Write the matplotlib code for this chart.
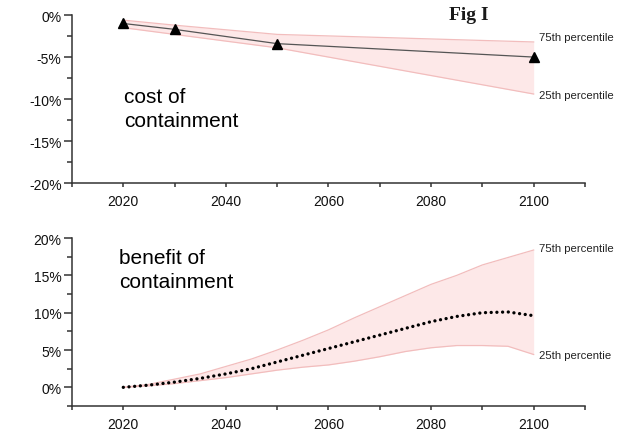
import matplotlib
matplotlib.use("Agg")
import matplotlib.pyplot as plt
from matplotlib.ticker import FuncFormatter, MultipleLocator

plt.rcParams['font.family'] = ['Liberation Sans', 'DejaVu Sans']

# ---- Data: cost of containment (%)
cost_years = [2020, 2030, 2050, 2100]
cost_mean = [-1.0, -1.7, -3.4, -5.0]
cost_p75 = [-0.6, -1.2, -2.3, -3.2]
cost_p25 = [-1.5, -2.3, -3.9, -9.4]

# ---- Data: benefit of containment (%)
ben_years = [2020, 2025, 2030, 2035, 2040, 2045, 2050, 2055, 2060, 2065,
             2070, 2075, 2080, 2085, 2090, 2095, 2100]
ben_mean = [0.0, 0.3, 0.7, 1.2, 1.8, 2.5, 3.4, 4.3, 5.2, 6.1,
            7.0, 7.9, 8.8, 9.5, 10.0, 10.1, 9.6]
ben_p75 = [0.0, 0.4, 1.1, 1.8, 2.8, 3.8, 5.0, 6.3, 7.7, 9.3,
           10.8, 12.3, 13.8, 15.0, 16.4, 17.4, 18.4]
ben_p25 = [0.0, 0.2, 0.5, 0.9, 1.3, 1.8, 2.3, 2.7, 3.0, 3.5,
           4.1, 4.8, 5.3, 5.6, 5.6, 5.5, 4.4]

xticks = [2010, 2020, 2030, 2040, 2050, 2060, 2070, 2080, 2090, 2100, 2110]
xticklabels = ['', '2020', '', '2040', '', '2060', '', '2080', '', '2100', '']

fill_c = '#fde8e8'
edge_c = '#f2bdbd'
spine_c = '#333333'

fig = plt.figure(figsize=(6.24, 4.35), dpi=100)
ax1 = fig.add_axes([0.1154, 0.577, 0.822, 0.386])
ax2 = fig.add_axes([0.1154, 0.0644, 0.822, 0.386])

pct = FuncFormatter(lambda v, p: f"{v:.0f}%")

for ax in (ax1, ax2):
    for s in ('top', 'right'):
        ax.spines[s].set_visible(False)
    for s in ('left', 'bottom'):
        ax.spines[s].set_color(spine_c)
        ax.spines[s].set_linewidth(1.1)
    ax.set_xlim(2010, 2110)
    ax.set_xticks(xticks)
    ax.set_xticklabels(xticklabels)
    ax.yaxis.set_major_locator(MultipleLocator(5))
    ax.yaxis.set_minor_locator(MultipleLocator(2.5))
    ax.yaxis.set_major_formatter(pct)
    ax.tick_params(direction='out', length=3.2, width=1.1, color=spine_c,
                   labelsize=10, labelcolor='#111111', pad=3)
    ax.tick_params(axis='y', which='major', length=5.5, pad=2)
    ax.tick_params(axis='y', which='minor', length=3.5, width=1.1, color=spine_c)
    ax.tick_params(axis='x', pad=5)

# Top panel
ax1.set_ylim(-20, 0)
ax1.fill_between(cost_years, cost_p25, cost_p75, color=fill_c, lw=0)
ax1.plot(cost_years, cost_p75, color=edge_c, lw=0.9)
ax1.plot(cost_years, cost_p25, color=edge_c, lw=0.9)
ax1.plot(cost_years, cost_mean, color='#555555', lw=0.9, marker='^',
         markersize=7.5, markerfacecolor='black', markeredgecolor='black',
         clip_on=False, zorder=5)
ax1.text(2020.2, -11.1, 'cost of\ncontainment', fontsize=15, va='center',
         ha='left', linespacing=1.32, color='black')
ax1.text(2101, -2.6, '75th percentile', fontsize=8.2, va='center', ha='left',
         color='#222222')
ax1.text(2101, -9.5, '25th percentile', fontsize=8.2, va='center', ha='left',
         color='#222222')

# Bottom panel
ax2.set_ylim(-2.5, 20)
ax2.fill_between(ben_years, ben_p25, ben_p75, color=fill_c, lw=0)
ax2.plot(ben_years, ben_p75, color=edge_c, lw=0.9)
ax2.plot(ben_years, ben_p25, color=edge_c, lw=0.9)
ax2.plot(ben_years, ben_mean, color='black', lw=2.4, linestyle=(0, (0.01, 1.7)),
         dash_capstyle='round', zorder=5)
ax2.text(2019.2, 15.8, 'benefit of\ncontainment', fontsize=15, va='center',
         ha='left', linespacing=1.32, color='black')
ax2.text(2101, 18.7, '75th percentile', fontsize=8.2, va='center', ha='left',
         color='#222222')
ax2.text(2101, 4.3, '25th percentie', fontsize=8.2, va='center', ha='left',
         color='#222222')

fig.text(0.751, 0.965, 'Fig I', fontsize=14, fontweight='bold',
         family=['Liberation Serif', 'DejaVu Serif'], ha='center', va='center',
         color='#1a1a1a')

fig.savefig('out.png', dpi=100)
